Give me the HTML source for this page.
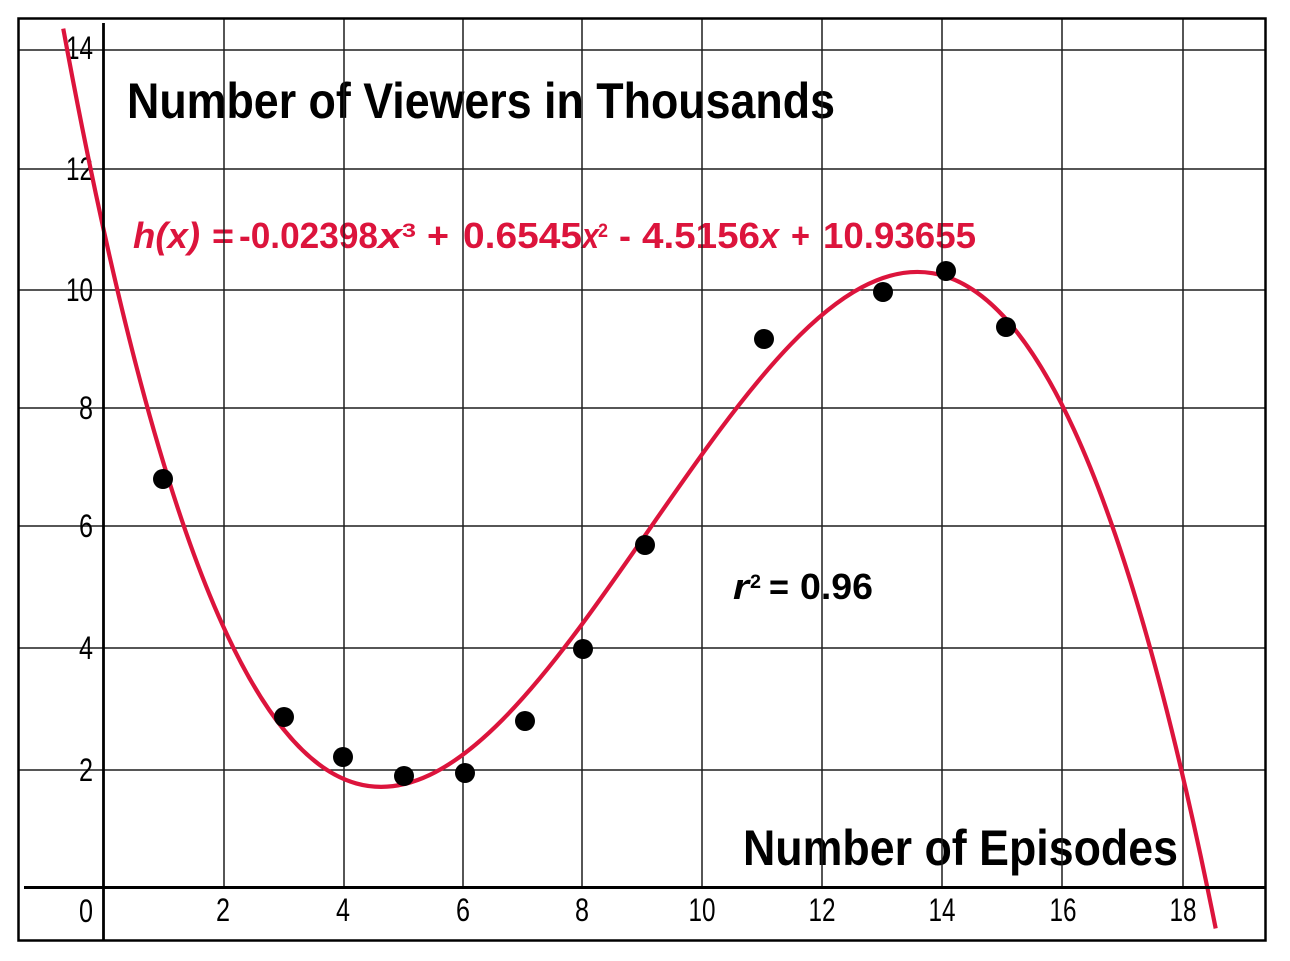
<!DOCTYPE html>
<html>
<head>
<meta charset="utf-8">
<style>
  html, body { margin: 0; padding: 0; background: #ffffff; }
  svg { display: block; }
  text { font-family: "Liberation Sans", "DejaVu Sans", sans-serif; }
</style>
</head>
<body>
<svg width="1290" height="961" viewBox="0 0 1290 961" xmlns="http://www.w3.org/2000/svg">
  <rect x="0" y="0" width="1290" height="961" fill="#ffffff"/>

  <!-- Titles -->
  <text x="127" y="118" font-size="50" font-weight="bold" fill="#000" textLength="708" lengthAdjust="spacingAndGlyphs">Number of Viewers in Thousands</text>
  <text x="743" y="865" font-size="50" font-weight="bold" fill="#000" textLength="435" lengthAdjust="spacingAndGlyphs">Number of Episodes</text>

  <!-- Equation -->
  <g fill="#dc143c" font-weight="bold" font-size="36">
    <text x="133" y="248" font-style="italic" textLength="67" lengthAdjust="spacingAndGlyphs">h(x)</text>
    <text x="212" y="248" textLength="22" lengthAdjust="spacingAndGlyphs">=</text>
    <text x="239" y="248" textLength="139" lengthAdjust="spacingAndGlyphs">-0.02398</text>
    <text x="378" y="248" font-style="italic" textLength="24" lengthAdjust="spacingAndGlyphs">x</text>
    <text x="402" y="237" font-size="19" textLength="14" lengthAdjust="spacingAndGlyphs">3</text>
    <text x="427" y="248" textLength="22" lengthAdjust="spacingAndGlyphs">+</text>
    <text x="463" y="248" textLength="119" lengthAdjust="spacingAndGlyphs">0.6545</text>
    <text x="582" y="248" font-style="italic" textLength="17" lengthAdjust="spacingAndGlyphs">x</text>
    <text x="598" y="237" font-size="19" textLength="10" lengthAdjust="spacingAndGlyphs">2</text>
    <text x="619" y="248" textLength="12" lengthAdjust="spacingAndGlyphs">-</text>
    <text x="642" y="248" textLength="118" lengthAdjust="spacingAndGlyphs">4.5156</text>
    <text x="760" y="248" font-style="italic" textLength="19" lengthAdjust="spacingAndGlyphs">x</text>
    <text x="791" y="248" textLength="19" lengthAdjust="spacingAndGlyphs">+</text>
    <text x="823" y="248" textLength="153" lengthAdjust="spacingAndGlyphs">10.93655</text>
  </g>

  <!-- r^2 -->
  <g fill="#000" font-weight="bold" font-size="36">
    <text x="733" y="599" font-style="italic" textLength="16" lengthAdjust="spacingAndGlyphs">r</text>
    <text x="750" y="588" font-size="19" textLength="11" lengthAdjust="spacingAndGlyphs">2</text>
    <text x="769" y="599" textLength="20" lengthAdjust="spacingAndGlyphs">=</text>
    <text x="800" y="599" textLength="73" lengthAdjust="spacingAndGlyphs">0.96</text>
  </g>

  <!-- Grid lines -->
  <g stroke="#1e1e1e" stroke-width="1.5" fill="none">
    <line x1="18" y1="50" x2="1265" y2="50"/>
    <line x1="18" y1="169" x2="1265" y2="169"/>
    <line x1="18" y1="290" x2="1265" y2="290"/>
    <line x1="18" y1="408" x2="1265" y2="408"/>
    <line x1="18" y1="526" x2="1265" y2="526"/>
    <line x1="18" y1="648" x2="1265" y2="648"/>
    <line x1="18" y1="770" x2="1265" y2="770"/>

    <line x1="224" y1="18" x2="224" y2="888"/>
    <line x1="344" y1="18" x2="344" y2="888"/>
    <line x1="463" y1="18" x2="463" y2="888"/>
    <line x1="582" y1="18" x2="582" y2="888"/>
    <line x1="702" y1="18" x2="702" y2="888"/>
    <line x1="822" y1="18" x2="822" y2="888"/>
    <line x1="942" y1="18" x2="942" y2="888"/>
    <line x1="1062" y1="18" x2="1062" y2="888"/>
    <line x1="1183" y1="18" x2="1183" y2="888"/>
  </g>

  <!-- Tick labels -->
  <g fill="#000" font-size="32">
    <text x="93" y="59" text-anchor="end" textLength="27" lengthAdjust="spacingAndGlyphs">14</text>
    <text x="93" y="180" text-anchor="end" textLength="27" lengthAdjust="spacingAndGlyphs">12</text>
    <text x="93" y="301" text-anchor="end" textLength="27" lengthAdjust="spacingAndGlyphs">10</text>
    <text x="93" y="419" text-anchor="end" textLength="14" lengthAdjust="spacingAndGlyphs">8</text>
    <text x="93" y="537" text-anchor="end" textLength="14" lengthAdjust="spacingAndGlyphs">6</text>
    <text x="93" y="659" text-anchor="end" textLength="14" lengthAdjust="spacingAndGlyphs">4</text>
    <text x="93" y="781" text-anchor="end" textLength="14" lengthAdjust="spacingAndGlyphs">2</text>
    <text x="93" y="922" text-anchor="end" textLength="14" lengthAdjust="spacingAndGlyphs">0</text>

    <text x="223" y="921" text-anchor="middle" textLength="14" lengthAdjust="spacingAndGlyphs">2</text>
    <text x="343" y="921" text-anchor="middle" textLength="14" lengthAdjust="spacingAndGlyphs">4</text>
    <text x="463" y="921" text-anchor="middle" textLength="14" lengthAdjust="spacingAndGlyphs">6</text>
    <text x="582" y="921" text-anchor="middle" textLength="14" lengthAdjust="spacingAndGlyphs">8</text>
    <text x="702" y="921" text-anchor="middle" textLength="27" lengthAdjust="spacingAndGlyphs">10</text>
    <text x="822" y="921" text-anchor="middle" textLength="27" lengthAdjust="spacingAndGlyphs">12</text>
    <text x="942" y="921" text-anchor="middle" textLength="27" lengthAdjust="spacingAndGlyphs">14</text>
    <text x="1063" y="921" text-anchor="middle" textLength="27" lengthAdjust="spacingAndGlyphs">16</text>
    <text x="1183" y="921" text-anchor="middle" textLength="27" lengthAdjust="spacingAndGlyphs">18</text>
  </g>

  <!-- Regression curve (exact cubic as Bezier) -->
  <path d="M63.25,28.66 C447.40,2120.5 831.55,-990.36 1215.70,928.44" fill="none" stroke="#dc143c" stroke-width="4.2" stroke-linecap="butt"/>

  <!-- Data points -->
  <g fill="#000">
    <circle cx="163" cy="479" r="10"/>
    <circle cx="284" cy="717" r="10"/>
    <circle cx="343" cy="757" r="10"/>
    <circle cx="404" cy="776" r="10"/>
    <circle cx="465" cy="773" r="10"/>
    <circle cx="525" cy="721" r="10"/>
    <circle cx="583" cy="649" r="10"/>
    <circle cx="645" cy="545" r="10"/>
    <circle cx="764" cy="339" r="10"/>
    <circle cx="883" cy="292" r="10"/>
    <circle cx="946" cy="271" r="10"/>
    <circle cx="1006" cy="327" r="10"/>
  </g>

  <!-- Axes -->
  <line x1="103.5" y1="23" x2="103.5" y2="941" stroke="#000" stroke-width="2.8"/>
  <line x1="24" y1="887.5" x2="1265" y2="887.5" stroke="#000" stroke-width="3"/>

  <!-- Border -->
  <rect x="18.5" y="18.5" width="1247" height="922" fill="none" stroke="#000" stroke-width="2.5"/>
</svg>
</body>
</html>
